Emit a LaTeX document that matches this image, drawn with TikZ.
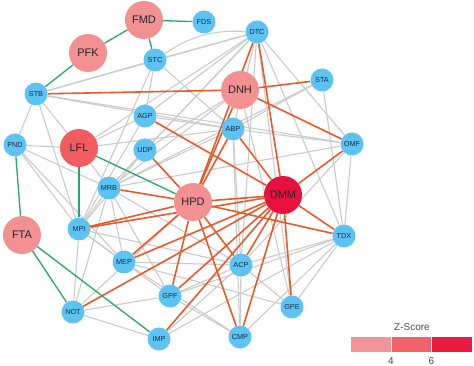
\documentclass[tikz,border=0pt]{standalone}
\usepackage{fontspec}
\setmainfont{Liberation Sans}
\usetikzlibrary{backgrounds}
\definecolor{nblue}{HTML}{5CC3F2}
\definecolor{npink}{HTML}{F29092}
\definecolor{nlfl}{HTML}{F05C60}
\definecolor{ndmm}{HTML}{E8103E}
\definecolor{egray}{HTML}{CBCBCB}
\definecolor{eorange}{HTML}{E95A2A}
\definecolor{egreen}{HTML}{27A86A}
\definecolor{tnavy}{HTML}{1B2B45}
\definecolor{lg1}{HTML}{F29598}
\definecolor{lg2}{HTML}{EE6468}
\definecolor{lg3}{HTML}{E81A3E}
\begin{document}
\begin{tikzpicture}[x=1pt,y=-1pt,
  sm/.style={circle,fill=nblue,inner sep=0pt,minimum size=23pt,font=\fontsize{7.3}{8}\selectfont,text=tnavy},
  bg/.style={circle,fill=npink,inner sep=0pt,minimum size=38pt,font=\fontsize{11}{12}\selectfont,text=black!85},
  ge/.style={draw=egray,line width=1.1pt},
  oe/.style={draw=eorange,line width=1.6pt},
  gn/.style={draw=egreen,line width=1.3pt},
  lgd/.style={font=\fontsize{10}{12}\selectfont,text=black!70}]
\useasboundingbox (0,0) rectangle (474,366);
% nodes
\node[bg] (FMD) at (144,20) {FMD};
\node[sm] (FDS) at (204,22) {FDS};
\node[bg] (PFK) at (88,53) {PFK};
\node[sm] (STC) at (155,60) {STC};
\node[sm] (DTC) at (257,32) {DTC};
\node[sm] (STB) at (36,94) {STB};
\node[bg] (DNH) at (240,90) {DNH};
\node[sm] (STA) at (322,80) {STA};
\node[sm] (AGP) at (145,116) {AGP};
\node[sm] (ABP) at (233,129) {ABP};
\node[sm] (PND) at (15,145) {PND};
\node[bg,fill=nlfl] (LFL) at (79,148) {LFL};
\node[sm] (UDP) at (145,150) {UDP};
\node[sm] (OMF) at (352,144) {OMF};
\node[sm] (MRB) at (109,188) {MRB};
\node[bg] (HPD) at (193,202) {HPD};
\node[bg,fill=ndmm] (DMM) at (283,195) {DMM};
\node[bg] (FTA) at (22,235) {FTA};
\node[sm] (MPI) at (79,229) {MPI};
\node[sm] (TDX) at (344,236) {TDX};
\node[sm] (MEP) at (124,262) {MEP};
\node[sm] (ACP) at (241,265) {ACP};
\node[sm] (GPF) at (170,296) {GPF};
\node[sm] (GPE) at (292,307) {GPE};
\node[sm] (NOT) at (73,312) {NOT};
\node[sm] (IMP) at (159,339) {IMP};
\node[sm] (CMP) at (240,337) {CMP};
\begin{scope}[on background layer]
\fill[white] (0,0) rectangle (474,366);
% gray edges
\foreach \a/\b in {STB/STC,STB/DTC,STB/ABP,STB/OMF,STB/PND,STB/MPI,STB/LFL,
  STC/AGP,STC/ABP,STC/MPI,STC/DTC,
  DTC/AGP,DTC/UDP,DTC/MRB,DTC/LFL,DTC/ABP,DTC/ACP,DTC/GPE,DTC/TDX,DTC/OMF,
  DNH/UDP,DNH/GPE,DNH/MRB,
  STA/ABP,STA/TDX,STA/MRB,
  AGP/ABP,AGP/MPI,AGP/LFL,
  ABP/OMF,ABP/ACP,ABP/MRB,ABP/LFL,ABP/CMP,
  UDP/MRB,UDP/MPI,
  OMF/MRB,OMF/TDX,OMF/ACP,
  LFL/PND,LFL/MRB,
  PND/MPI,PND/MEP,PND/MRB,
  MRB/MPI,MRB/MEP,MRB/GPF,MRB/NOT,MRB/ACP,
  MPI/NOT,MPI/MEP,MPI/ACP,MPI/GPF,
  MEP/ACP,MEP/CMP,MEP/GPE,
  TDX/ACP,TDX/GPE,TDX/CMP,TDX/IMP,TDX/GPF,
  ACP/CMP,ACP/GPE,ACP/IMP,ACP/GPF,
  GPF/NOT,GPF/CMP,NOT/IMP,HPD/NOT}
  \draw[ge] (\a) -- (\b);
\draw[ge] (STC) to[bend left=18] (DTC);
% orange edges
\foreach \a/\b in {STB/DNH,DNH/STA,DNH/OMF,DNH/HPD,DTC/HPD,DTC/DMM,
  AGP/DMM,UDP/HPD,ABP/DMM,ABP/HPD,OMF/DMM,
  HPD/MRB,HPD/MPI,HPD/DMM,HPD/TDX,HPD/GPF,HPD/CMP,HPD/MEP,HPD/ACP,
  DMM/MPI,DMM/TDX,DMM/GPE,DMM/CMP,DMM/ACP,DMM/IMP,DMM/GPF,DMM/NOT,DMM/MEP}
  \draw[oe] (\a) -- (\b);
% green edges
\foreach \a/\b in {FMD/FDS,FMD/PFK,FMD/STC,PFK/STB,LFL/MPI,LFL/HPD,PND/FTA,FTA/NOT,FTA/IMP}
  \draw[gn] (\a) -- (\b);
\end{scope}
% legend
\node[lgd] (zs) at (412,327) {Z-Score};
\fill[lg1] (351,337) rectangle (390.5,352);
\fill[lg2] (391.5,337) rectangle (431,352);
\fill[lg3] (432,337) rectangle (472,352);
\node[lgd] (l4) at (391,361) {4};
\node[lgd] (l6) at (431.5,361) {6};
\end{tikzpicture}
\end{document}
